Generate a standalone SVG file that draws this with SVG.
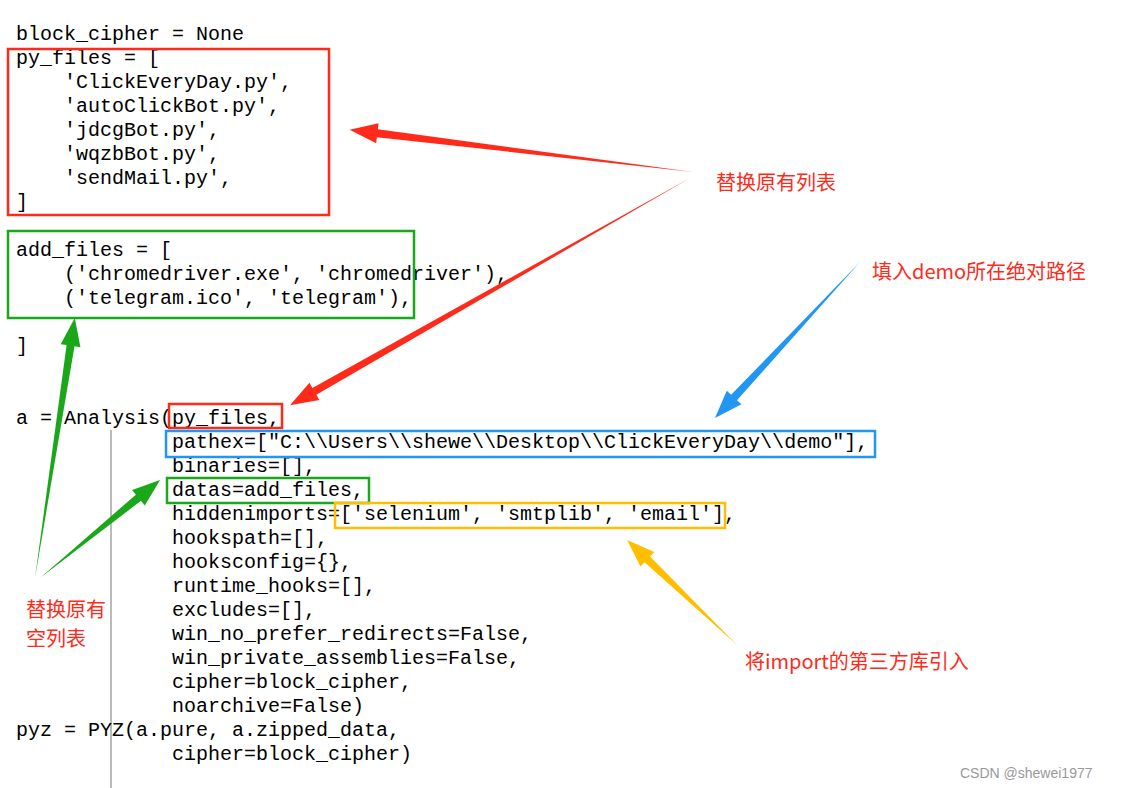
<svg xmlns="http://www.w3.org/2000/svg" width="1125" height="788" viewBox="0 0 1125 788">
<style>
.c{font-family:"Liberation Mono","DejaVu Sans Mono",monospace;font-size:20px;fill:#000;white-space:pre}
.a{font-family:"Noto Sans CJK SC","Noto Sans",sans-serif;font-size:20px;fill:#ff2a1a}
.b{fill:none;stroke-width:2.5}
</style>
<rect width="1125" height="788" fill="#fff"/>
<line x1="111" y1="430" x2="111" y2="788" stroke="#777" stroke-width="1"/>
<g id="code">
<text class="c" x="16" y="40">block_cipher = None</text>
<text class="c" x="16" y="64">py_files = [</text>
<text class="c" x="16" y="88">    'ClickEveryDay.py',</text>
<text class="c" x="16" y="112">    'autoClickBot.py',</text>
<text class="c" x="16" y="136">    'jdcgBot.py',</text>
<text class="c" x="16" y="160">    'wqzbBot.py',</text>
<text class="c" x="16" y="184">    'sendMail.py',</text>
<text class="c" x="16" y="208">]</text>
<text class="c" x="16" y="256">add_files = [</text>
<text class="c" x="16" y="280">    ('chromedriver.exe', 'chromedriver'),</text>
<text class="c" x="16" y="304">    ('telegram.ico', 'telegram'),</text>
<text class="c" x="16" y="352">]</text>
<text class="c" x="16" y="424">a = Analysis(py_files,</text>
<text class="c" x="16" y="448">             pathex=["C:\\Users\\shewe\\Desktop\\ClickEveryDay\\demo"],</text>
<text class="c" x="16" y="472">             binaries=[],</text>
<text class="c" x="16" y="496">             datas=add_files,</text>
<text class="c" x="16" y="520">             hiddenimports=['selenium', 'smtplib', 'email'],</text>
<text class="c" x="16" y="544">             hookspath=[],</text>
<text class="c" x="16" y="568">             hooksconfig={},</text>
<text class="c" x="16" y="592">             runtime_hooks=[],</text>
<text class="c" x="16" y="616">             excludes=[],</text>
<text class="c" x="16" y="640">             win_no_prefer_redirects=False,</text>
<text class="c" x="16" y="664">             win_private_assemblies=False,</text>
<text class="c" x="16" y="688">             cipher=block_cipher,</text>
<text class="c" x="16" y="712">             noarchive=False)</text>
<text class="c" x="16" y="736">pyz = PYZ(a.pure, a.zipped_data,</text>
<text class="c" x="16" y="760">             cipher=block_cipher)</text>
</g>
<g id="boxes">
<rect class="b" x="8" y="49" width="321" height="166" stroke="#ff2a1a"/>
<rect class="b" x="8" y="231" width="406" height="87" stroke="#1aa81a"/>
<rect class="b" x="169" y="404" width="113" height="24" stroke="#ff2a1a"/>
<rect class="b" x="166" y="431" width="709" height="26" stroke="#2196f3"/>
<rect class="b" x="167" y="478" width="202" height="25" stroke="#1aa81a"/>
<rect class="b" x="335" y="503" width="390" height="25" stroke="#ffbf00"/>
</g>
<g id="connectors">
<polygon transform="translate(693,172) rotate(187)" points="0,0 318,-4 318,-10 346,0 318,10 318,4" fill="#ff2a1a"/>
<polygon transform="translate(690,178) rotate(150.4)" points="0,0 432,-4 432,-10 460,0 432,10 432,4" fill="#ff2a1a"/>
<polygon transform="translate(860,262) rotate(132.9)" points="0,0 185,-4 185,-10 213,0 185,10 185,4" fill="#2196f3"/>
<polygon transform="translate(35,578) rotate(-81.3)" points="0,0 235,-4 235,-10 263,0 235,10 235,4" fill="#1aa81a"/>
<polygon transform="translate(40,578) rotate(-39.2)" points="0,0 127,-4 127,-10 155,0 127,10 127,4" fill="#1aa81a"/>
<polygon transform="translate(737,645) rotate(223.7)" points="0,0 124,-4 124,-10 152,0 124,10 124,4" fill="#ffbf00"/>
</g>
<g id="labels">
<text class="a" x="716" y="190">替换原有列表</text>
<text class="a" x="872" y="279">填入demo所在绝对路径</text>
<text class="a" x="26" y="617">替换原有</text>
<text class="a" x="26" y="646">空列表</text>
<text class="a" x="745" y="669">将import的第三方库引入</text>
<text x="960" y="778" font-family="Liberation Sans,sans-serif" font-size="14" fill="#999">CSDN @shewei1977</text>
</g>
</svg>
